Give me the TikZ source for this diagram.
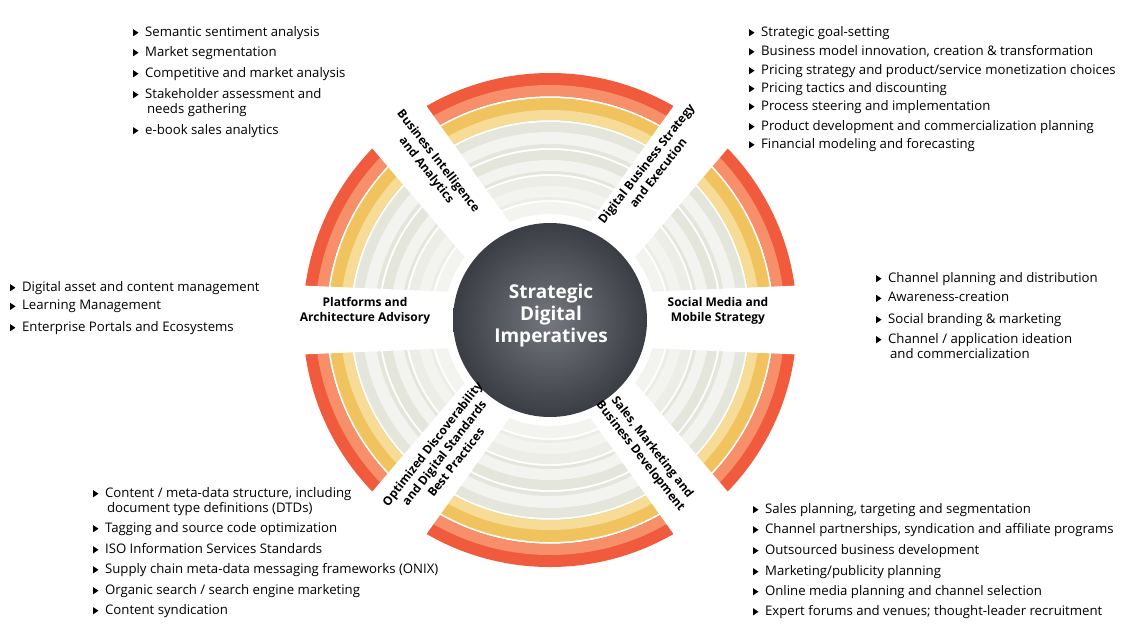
\documentclass[tikz,border=0pt]{standalone}
\usepackage{fontspec}
\setmainfont{Open Sans}
\usetikzlibrary{calc}
\definecolor{redo}{HTML}{EF5B3C}
\definecolor{redi}{HTML}{F7906A}
\definecolor{yel}{HTML}{F1C35E}
\definecolor{yeli}{HTML}{F6DC96}
\definecolor{gA}{HTML}{E4E6DC}
\definecolor{gB}{HTML}{F3F4EF}
\definecolor{disc}{HTML}{3A3D44}
\definecolor{disci}{HTML}{74777E}
\newcommand{\btri}{\tikz[baseline=0pt]\fill (0,0)--(0.75ex,0.5ex)--(0,1.0ex)--cycle;\hspace{0.5em}}
\tikzset{
 item/.style={anchor=north west,inner sep=0pt,font=\fontsize{13.2}{15}\selectfont,align=left},
 spokelab/.style={font=\bfseries\fontsize{12}{15}\selectfont,align=center,inner sep=0pt},
}
\begin{document}
\begin{tikzpicture}[x=1pt,y=1pt]
\useasboundingbox (0,0) rectangle (1145,-640);
\fill[white] (0,0) rectangle (1145,-640);
\coordinate (c) at (550,-320);
% rings
\fill[redo,even odd rule] (c) circle (247) (c) circle (224);
\fill[redi,even odd rule] (c) circle (235) (c) circle (224);
\fill[yel,even odd rule] (c) circle (222) (c) circle (200);
\fill[yeli,even odd rule] (c) circle (210) (c) circle (200);
\fill[gA,even odd rule] (c) circle (198) (c) circle (172);
\fill[gB,even odd rule] (c) circle (188) (c) circle (176);
\fill[gA,even odd rule] (c) circle (170) (c) circle (146);
\fill[gB,even odd rule] (c) circle (160) (c) circle (149);
\fill[gA!70,even odd rule] (c) circle (144) (c) circle (120);
\fill[gB,even odd rule] (c) circle (134) (c) circle (123);
\fill[gA!45,even odd rule] (c) circle (118) (c) circle (106);
% spokes
\foreach \a in {0,52,128,180,232,308}{
 \begin{scope}[shift={(c)},rotate=\a]
 \fill[white] (0,-24)--(260,-35)--(260,35)--(0,24)--cycle;
 \end{scope}}
% centre disc
\fill[white] (c) circle (104);
\node[circle,minimum size=194pt,inner sep=0pt,inner color=disci,outer color=disc] (hub) at (c) {};
\node[font=\bfseries\fontsize{19}{22}\selectfont,text=white,align=center] (hubtxt) at (551,-316) {Strategic\\Digital\\Imperatives};
% spoke labels
\node[spokelab,rotate=-52] (bi) at (432,-166) {Business Intelligence\\and Analytics};
\node[spokelab,rotate=52] (dbs) at (652,-168) {Digital Business Strategy\\and Execution};
\node[spokelab] (pa) at (365,-311) {Platforms and\\Architecture Advisory};
\node[spokelab] (sm) at (718,-311) {Social Media and\\Mobile Strategy};
\node[spokelab,rotate=52] (od) at (444,-453) {Optimized Discoverability\\and Digital Standards\\Best Practices};
\node[spokelab,rotate=-52] (sa) at (646,-452) {Sales, Marketing and\\Business Development};
% lists
\node[item] (tl1) at (133,-26) {\btri Semantic sentiment analysis};
\node[item] (tl2) at (133,-46) {\btri Market segmentation};
\node[item] (tl3) at (133,-67) {\btri Competitive and market analysis};
\node[item] (tl4) at (133,-88) {\btri Stakeholder assessment and\\\hspace{1.05em}needs gathering};
\node[item] (tl5) at (133,-124) {\btri e-book sales analytics};
\node[item] (tr1) at (749,-26) {\btri Strategic goal-setting};
\node[item] (tr2) at (749,-45) {\btri Business model innovation, creation \& transformation};
\node[item] (tr3) at (749,-64) {\btri Pricing strategy and product/service monetization choices};
\node[item] (tr4) at (749,-82) {\btri Pricing tactics and discounting};
\node[item] (tr5) at (749,-100) {\btri Process steering and implementation};
\node[item] (tr6) at (749,-120) {\btri Product development and commercialization planning};
\node[item] (tr7) at (749,-138) {\btri Financial modeling and forecasting};
\node[item] (l1) at (10,-281) {\btri Digital asset and content management};
\node[item] (l2) at (10,-300) {\btri Learning Management};
\node[item] (l3) at (10,-321) {\btri Enterprise Portals and Ecosystems};
\node[item] (r1) at (876,-272) {\btri Channel planning and distribution};
\node[item] (r2) at (876,-292) {\btri Awareness-creation};
\node[item] (r3) at (876,-313) {\btri Social branding \& marketing};
\node[item] (r4) at (876,-333) {\btri Channel / application ideation\\\hspace{1.05em}and commercialization};
\node[item] (bl1) at (93,-487) {\btri Content / meta-data structure, including\\\hspace{1.05em}document type definitions (DTDs)};
\node[item] (bl2) at (93,-522) {\btri Tagging and source code optimization};
\node[item] (bl3) at (93,-543) {\btri ISO Information Services Standards};
\node[item] (bl4) at (93,-563) {\btri Supply chain meta-data messaging frameworks (ONIX)};
\node[item] (bl5) at (93,-584) {\btri Organic search / search engine marketing};
\node[item] (bl6) at (93,-604) {\btri Content syndication};
\node[item] (br1) at (753,-503) {\btri Sales planning, targeting and segmentation};
\node[item] (br2) at (753,-523) {\btri Channel partnerships, syndication and affiliate programs};
\node[item] (br3) at (753,-544) {\btri Outsourced business development};
\node[item] (br4) at (753,-565) {\btri Marketing/publicity planning};
\node[item] (br5) at (753,-585) {\btri Online media planning and channel selection};
\node[item] (br6) at (753,-605) {\btri Expert forums and venues; thought-leader recruitment};
\end{tikzpicture}
\end{document}
